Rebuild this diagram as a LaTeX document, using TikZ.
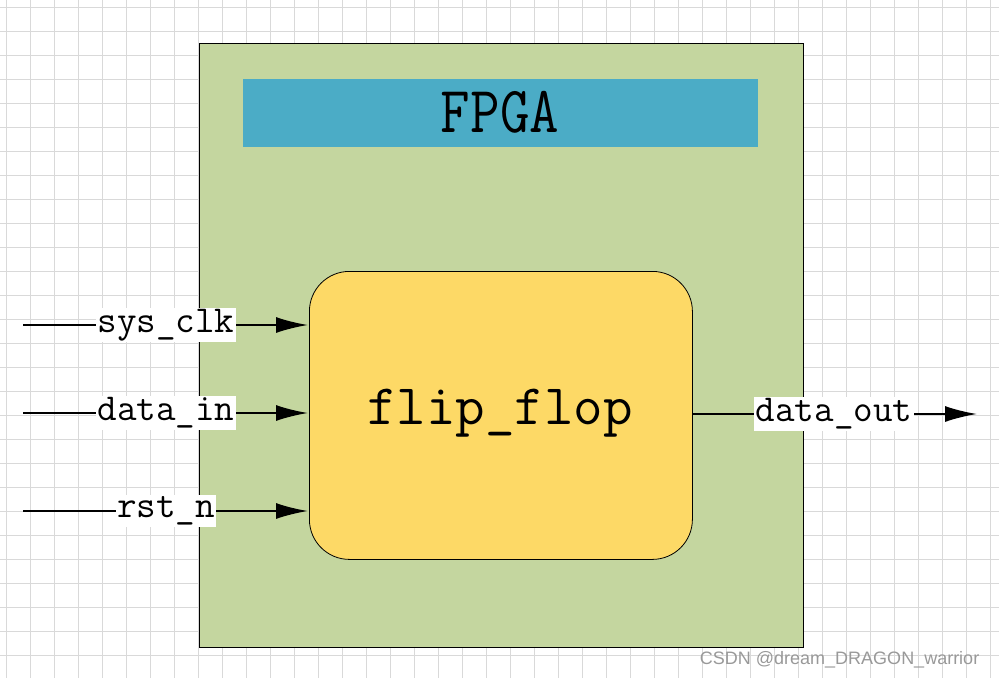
\documentclass[tikz,border=0pt]{standalone}
\usepackage{fontspec}
\setmainfont{Latin Modern Mono}
\newfontfamily\wm{Liberation Sans}
\usetikzlibrary{arrows.meta}
\definecolor{fpgagreen}{HTML}{C4D69F}
\definecolor{fpgablue}{HTML}{4BACC6}
\definecolor{ffyellow}{HTML}{FDD966}
\begin{document}
\begin{tikzpicture}[x=0.75pt,y=-0.75pt,
  sig/.style={line width=1.5pt,-{Latex[length=24pt,width=12pt]}},
  lab/.style={fill=white,inner sep=1pt,font=\fontsize{28.5}{30}\selectfont}]
\useasboundingbox (0,0) rectangle (999,678);
\fill[white] (0,0) rectangle (999,678);
\foreach \x in {6,30,...,999} \draw[black!15,line width=0.6pt] (\x,0) -- (\x,678);
\foreach \y in {7,31,...,678} \draw[black!15,line width=0.6pt] (0,\y) -- (999,\y);
\node[draw=black,fill=fpgagreen,minimum width=604*0.75pt,minimum height=604*0.75pt,anchor=north west,inner sep=0,line width=0.6pt] (fpga) at (199,43) {};
\node[fill=fpgablue,minimum width=515*0.75pt,minimum height=68*0.75pt,anchor=north west,inner sep=0] (title) at (243,79) {};
\node[font=\fontsize{43}{46}\selectfont,yscale=1.15] (tt) at (500,112) {FPGA};
\node[draw=black,fill=ffyellow,rounded corners=30pt,minimum width=383*0.75pt,minimum height=288*0.75pt,anchor=north west,inner sep=0,line width=0.6pt] (ff) at (309,271) {};
\node[font=\fontsize{43}{46}\selectfont] (fft) at (500,413) {flip\_flop};
\coordinate (s1) at (23,325); \coordinate (e1) at (308,325);
\coordinate (s2) at (23,413); \coordinate (e2) at (308,413);
\coordinate (s3) at (23,511); \coordinate (e3) at (308,511);
\coordinate (s4) at (692,414); \coordinate (e4) at (977,414);
\draw[sig] (s1) -- (e1);
\draw[sig] (s2) -- (e2);
\draw[sig] (s3) -- (e3);
\draw[sig] (s4) -- (e4);
\node[lab] (l1) at (166,325) {sys\_clk};
\node[lab] (l2) at (166,413) {data\_in};
\node[lab] (l3) at (166,511) {rst\_n};
\node[lab] (l4) at (834,414) {data\_out};
\node[font=\wm\fontsize{13.5}{15}\selectfont,text=black!40,anchor=east] (w) at (984,660) {CSDN @dream\_DRAGON\_warrior};
\end{tikzpicture}
\end{document}
